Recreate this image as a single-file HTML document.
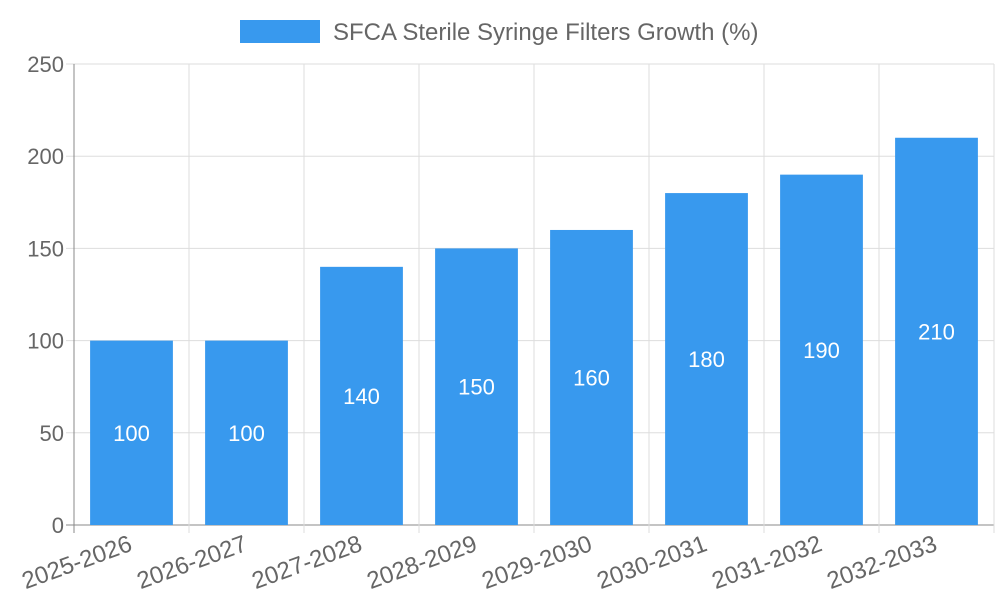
<!DOCTYPE html>
<html><head><meta charset="utf-8"><style>
body{margin:0;background:#fff;}
svg{display:block;font-family:"Liberation Sans",sans-serif;}
</style></head><body>
<svg id="chart" width="1000" height="600">
<g>
<rect x="240" y="20" width="80" height="23" fill="#3899EE"/>
<text x="333" y="40" font-size="24" fill="#666">SFCA Sterile Syringe Filters Growth (%)</text>
</g>
<g id="grid"></g><g id="bars"></g><g id="labels"></g>
</svg>
<script>
const categories=["2025-2026","2026-2027","2027-2028","2028-2029","2029-2030","2030-2031","2031-2032","2032-2033"];
const values=[100,100,140,150,160,180,190,210];
const yTicks=[0,50,100,150,200,250];
const ns="http://www.w3.org/2000/svg";
const L=74,R=994,T=64,B=525,yMax=250;
const y=v=>B-(v/yMax)*(B-T);
const band=(R-L)/categories.length;
const x=i=>L+band*i;
const grid=document.getElementById('grid'),bars=document.getElementById('bars'),labels=document.getElementById('labels');
function mk(tag,attrs,parent){const e=document.createElementNS(ns,tag);for(const k in attrs)e.setAttribute(k,attrs[k]);parent.appendChild(e);return e;}
yTicks.forEach(t=>{
  const l=mk('line',{x1:L-8,x2:R,y1:y(t),y2:y(t),stroke:t===0?'#888':'#ddd','stroke-width':1},grid);
  
  
  const tx=mk('text',{x:L-10,y:y(t)+8,'text-anchor':'end','font-size':22,fill:'#666'},labels);
  tx.textContent=t;
  
  
});
for(let i=0;i<=categories.length;i++){
  const l=mk('line',{x1:x(i),x2:x(i),y1:T,y2:B+8,stroke:i===0?'#888':'#ddd','stroke-width':1},grid);
  
  
}
categories.forEach((c,i)=>{
  const bw=band*0.72,cx=x(i)+band/2;
  const r=mk('rect',{x:cx-bw/2,y:y(values[i]),width:bw,height:B-y(values[i]),fill:'#3899EE'},bars);
  
  
  const v=mk('text',{x:cx,y:(y(values[i])+B)/2+8,'text-anchor':'middle','font-size':22,fill:'#fff'},labels);
  v.textContent=values[i];
  
  
  const ax=cx+2,ay=B+25;
  const t=mk('text',{x:ax,y:ay,'text-anchor':'end','font-size':24,fill:'#666',transform:`rotate(-20 ${ax} ${ay})`},labels);
  t.textContent=c;
  
  
});
</script>
</body></html>
